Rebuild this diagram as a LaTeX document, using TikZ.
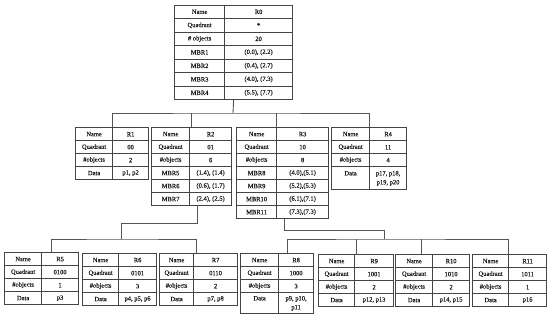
\documentclass[tikz,border=0pt]{standalone}
\usepackage{fontspec}
\setmainfont{Liberation Serif}[FakeBold=0.5]
\usetikzlibrary{matrix}
\definecolor{tabline}{HTML}{454545}
\definecolor{connline}{HTML}{555555}
\definecolor{txt}{HTML}{1A1A1A}
\newcommand\twolines[2]{\begin{tabular}{@{}c@{}}#1\\#2\end{tabular}}
\begin{document}
\begin{tikzpicture}[x=1pt,y=-1pt,
  tbl/.style={matrix of nodes, anchor=north west, inner sep=0pt,
    row sep=-0.8pt, column sep=-0.8pt,
    nodes={draw=tabline, line width=0.8pt, anchor=center, inner sep=0.5pt,
      minimum height=13, font=\fontsize{6.5}{9}\selectfont, text=txt}},
  cw/.style 2 args={column 1/.style={nodes={minimum width=#1}},
    column 2/.style={nodes={minimum width=#2}}},
  rh/.style={nodes={minimum height=#1}},
  conn/.style={draw=connline, line width=0.9pt}]
\useasboundingbox (0,0) rectangle (550,317);

% root
\matrix (R0) [tbl, cw={50}{68}, rh=13.5] at (174,4.5) {
Name & R0 \\
Quadrant & * \\
\# objects & 20 \\
MBR1 & (0.0), (2.2) \\
MBR2 & (0.4), (2.7) \\
MBR3 & (4.0), (7.3) \\
MBR4 & (5.5), (7.7) \\
};

% level 1
\matrix (R1) [tbl, cw={37}{36}] at (75,127) {
Name & R1 \\
Quadrant & 00 \\
\#objects & 2 \\
Data & p1, p2 \\
};
\matrix (R2) [tbl, cw={38}{42}] at (151,127) {
Name & R2 \\
Quadrant & 01 \\
\#objects & 6 \\
MBR5 & (1.4), (1.4) \\
MBR6 & (0.6), (1.7) \\
MBR7 & (2.4), (2.5) \\
};
\matrix (R3) [tbl, cw={40}{52}] at (236,127) {
Name & R3 \\
Quadrant & 10 \\
\#objects & 8 \\
MBR8 & (4.0),(5.1) \\
MBR9 & (5.2),(5.3) \\
MBR10 & (6.1),(7.1) \\
MBR11 & (7.3),(7.3) \\
};
\matrix (R4) [tbl, cw={38}{37}, row 4/.style={nodes={minimum height=23}}] at (331,127) {
Name & R4 \\
Quadrant & 11 \\
\#objects & 4 \\
\twolines{Data}{\phantom{p}} & \twolines{p17, p18,}{p19, p20} \\
};

% level 2
\matrix (R5) [tbl, cw={37}{37}] at (4,252) {
Name & R5 \\
Quadrant & 0100 \\
\#objects & 1 \\
Data & p3 \\
};
\matrix (R6) [tbl, cw={36}{38}] at (82,253) {
Name & R6 \\
Quadrant & 0101 \\
\#objects & 3 \\
Data & p4, p5, p6 \\
};
\matrix (R7) [tbl, cw={34}{44}] at (159,253) {
Name & R7 \\
Quadrant & 0110 \\
\#objects & 2 \\
Data & p7, p8 \\
};
\matrix (R8) [tbl, cw={38}{35}, row 4/.style={nodes={minimum height=21}}] at (240,253) {
Name & R8 \\
Quadrant & 1000 \\
\#objects & 3 \\
\twolines{Data}{\phantom{p}} & \twolines{p9, p10,}{p11} \\
};
\matrix (R9) [tbl, cw={36}{39}] at (318,254) {
Name & R9 \\
Quadrant & 1001 \\
\#objects & 2 \\
Data & p12, p13 \\
};
\matrix (R10) [tbl, cw={37}{37}] at (395,254) {
Name & R10 \\
Quadrant & 1010 \\
\#objects & 2 \\
Data & p14, p15 \\
};
\matrix (R11) [tbl, cw={36}{38}] at (472,254) {
Name & R11 \\
Quadrant & 1011 \\
\#objects & 1 \\
Data & p16 \\
};

% connectors: root to level 1
\coordinate (b0) at (233,113);
\draw[conn] (R0.south) -- (b0);
\draw[conn] (R1.north) |- (b0) -| (R4-1-2.north west);
\draw[conn] (R2.north) -- (R2.north |- b0);
\draw[conn] (R3-1-2.north west) -- (R3-1-2.north west |- b0);

% R2 to R5..R7
\coordinate (k1) at (197,223);
\coordinate (k2) at (121,239);
\draw[conn] (R2.south -| k1) -- (k1) -| (k2);
\draw[conn] ([xshift=10]R5.north) |- (k2) -| ([xshift=-2]R7.north);

% R3 to R8..R11
\coordinate (k3) at (284,230);
\coordinate (k4) at (384,239);
\draw[conn] (R3.south -| k3) -- (k3) -| (k4);
\draw[conn] ([xshift=10]R8.north) |- (k4) -| (R11-1-2.north west);
\draw[conn] (R9.north) -- (R9.north |- k4);
\draw[conn] ([xshift=-11]R10.north) -- ([xshift=-11]R10.north |- k4);
\end{tikzpicture}
\end{document}
